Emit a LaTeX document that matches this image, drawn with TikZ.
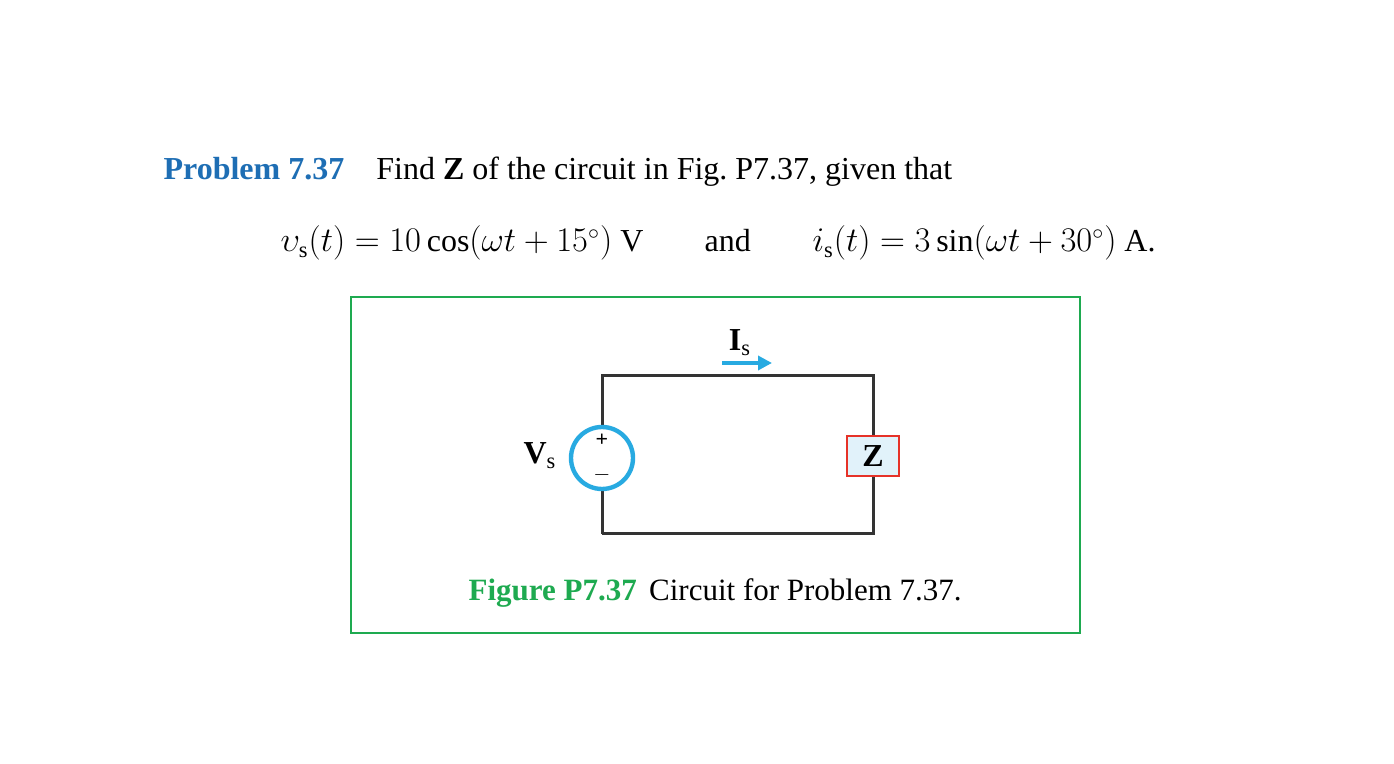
\documentclass[tikz,border=0pt]{standalone}
\usepackage{fontspec}
\setmainfont{Liberation Serif}
\usetikzlibrary{arrows.meta}
\definecolor{probblue}{RGB}{30,110,180}
\definecolor{figgreen}{RGB}{30,170,80}
\definecolor{srcblue}{RGB}{40,170,225}
\definecolor{zred}{RGB}{230,50,40}
\definecolor{zfill}{RGB}{225,242,250}
\begin{document}
\begin{tikzpicture}[x=0.5pt,y=-0.5pt,semithick,
    every node/.style={font=\fontsize{16}{19}\selectfont},
    wire/.style={draw=black!80,line width=1.5pt},
    src/.style={circle,draw=srcblue,line width=2.2pt,minimum size=31pt,inner sep=0pt,fill=white},
    imp/.style={draw=zred,fill=zfill,line width=1.2pt,minimum width=26pt,minimum height=20pt,inner sep=0pt}]
  \useasboundingbox (0,0) rectangle (1394,764);
  % problem statement
  \node[anchor=base west,inner sep=0pt] (title) at (163,180)
    {\textcolor{probblue}{\textbf{Problem 7.37}}\hspace{1em}Find \textbf{Z} of the circuit in Fig.~P7.37, given that};
  \node[anchor=base west,inner sep=0pt] (eqv) at (280,252)
    {$\upsilon_{\mathrm{s}}(t)=10\cos(\omega t+15^\circ)$ V};
  \node[anchor=base west,inner sep=0pt] (eqand) at (704,252) {and};
  \node[anchor=base west,inner sep=0pt] (eqi) at (812,252)
    {$i_{\mathrm{s}}(t)=3\sin(\omega t+30^\circ)$ A.};
  % figure frame
  \draw[figgreen,line width=1pt] (351,297) rectangle (1080,633);
  % circuit
  \coordinate (tl) at (602,376);
  \coordinate (tr) at (873,376);
  \coordinate (br) at (873,534);
  \coordinate (bl) at (602,534);
  \draw[wire] (bl) -- (tl) -- (tr) -- (br) -- (bl);
  \node[src] (vs) at (602,458) {};
  \node[font=\fontsize{11}{12}\selectfont\bfseries] (plus) at (602,440) {+};
  \node[font=\fontsize{11}{12}\selectfont\bfseries] (minus) at (602,475) {$-$};
  \node (vslabel) at (540,456) {$\mathbf{V}_{\mathrm{s}}$};
  \node[imp] (z) at (873,456) {\textbf{Z}};
  \coordinate (ia) at (722,363);
  \coordinate (ib) at (772,363);
  \draw[srcblue,line width=2pt,-{Triangle[length=7pt,width=7pt]}] (ia) -- (ib);
  \node (islabel) at (740,343) {$\mathbf{I}_{\mathrm{s}}$};
  % caption
  \node[anchor=base west,inner sep=0pt,font=\fontsize{15.5}{18}\selectfont] (caption) at (468,601)
    {\textcolor{figgreen}{\textbf{Figure P7.37}}\hspace{0.4em}Circuit for Problem 7.37.};
\end{tikzpicture}
\end{document}
